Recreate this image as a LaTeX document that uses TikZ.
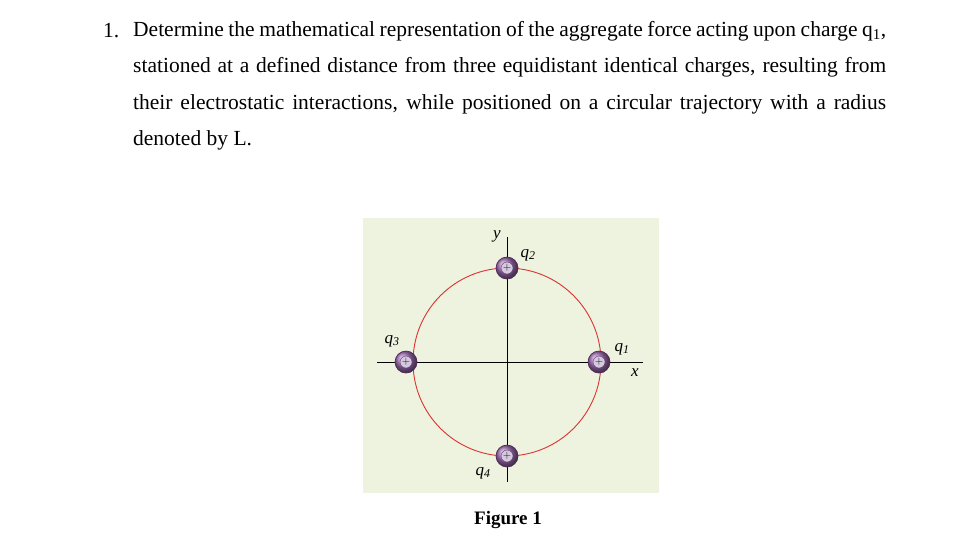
\documentclass[tikz,border=0pt]{standalone}
\usepackage{fontspec}
\setmainfont{Liberation Serif}
\definecolor{circred}{RGB}{220,50,50}
\definecolor{bgg}{RGB}{237,243,222}
\definecolor{ballc}{RGB}{160,110,180}
\definecolor{balld}{RGB}{80,40,90}
\definecolor{plusf}{RGB}{215,200,225}
\definecolor{plusd}{RGB}{90,60,100}
\begin{document}
\begin{tikzpicture}[x=1pt,y=-1pt,
  charge/.style={circle,minimum size=22pt,inner sep=0pt,ball color=ballc,draw=balld,line width=0.7pt},
  plus/.style={circle,fill=plusf,draw=plusd,line width=0.4pt,minimum size=12pt,inner sep=0pt,font=\sffamily\fontsize{11}{11}\selectfont},
  lab/.style={font=\itshape\fontsize{17}{17}\selectfont}]
\useasboundingbox (0,0) rectangle (955,539);
\node[anchor=base west,inner sep=0pt,font=\fontsize{21.5}{36}\selectfont] (num) at (103,37) {1.};
\node[anchor=north west,text width=753pt,align=justify,font=\fontsize{21.5}{36.5}\selectfont,inner sep=0pt] (txt) at (133,21)
{Determine the mathematical representation of the aggregate force acting upon charge q\textsubscript{1}, stationed at a defined distance from three equidistant identical charges, resulting from their electrostatic interactions, while positioned on a circular trajectory with a radius denoted by L.};
\fill[bgg] (363,218) rectangle (659,493);
\coordinate (o) at (507,362);
\draw[circred,line width=0.9pt] (o) circle (94);
\coordinate (xl) at (377,362); \coordinate (xr) at (643,362);
\coordinate (yt) at (507,237); \coordinate (yb) at (507,482);
\draw[line width=0.7pt] (xl) -- (xr);
\draw[line width=0.7pt] (yt) -- (yb);
\foreach \n/\p in {c1/{(599,362)},c2/{(507,268)},c3/{(406,362)},c4/{(507,456)}}{
  \node[charge] (\n) at \p {};
  \node[plus] at (\n) {+};
}
\node[lab] (ly) at (497,236) {y};
\node[lab] (lx) at (635,373) {x};
\node[lab] (l2) at (528,255) {q\textsubscript{2}};
\node[lab] (l1) at (622,349) {q\textsubscript{1}};
\node[lab] (l3) at (392,341) {q\textsubscript{3}};
\node[lab] (l4) at (483,473) {q\textsubscript{4}};
\node[font=\bfseries\fontsize{19}{19}\selectfont] (fig) at (508,520) {Figure 1};
\end{tikzpicture}
\end{document}
